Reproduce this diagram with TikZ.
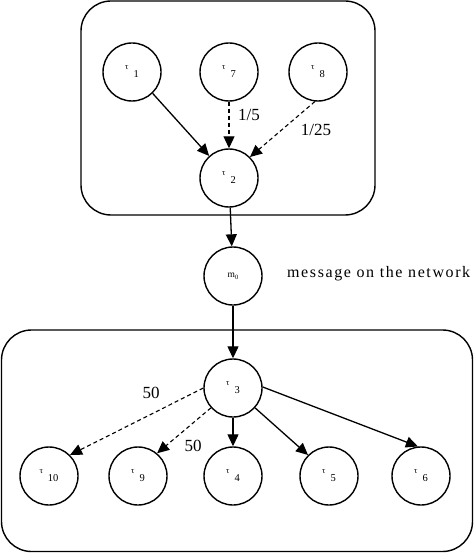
\documentclass[tikz,border=0pt]{standalone}
\usepackage{fontspec}
\setmainfont{Liberation Serif}
\usetikzlibrary{arrows.meta}
\newcommand{\tlab}[1]{{\fontsize{8.5}{8.5}\selectfont τ}\hspace{5pt}\raisebox{-8pt}{\fontsize{10.5}{10.5}\selectfont #1}}
\tikzset{
  tnode/.style={circle,draw,line width=1.4pt,minimum size=58pt,inner sep=0pt},
  grp/.style={draw,line width=1.4pt,rounded corners=30pt},
  solidarr/.style={line width=1.3pt,-{Triangle[length=12pt,width=11pt]}},
  dasharr/.style={line width=1.1pt,dash pattern=on 4pt off 3pt,-{Triangle[length=12pt,width=11pt]}},
  lab/.style={font=\fontsize{17}{17}\selectfont,inner sep=0pt}
}
\begin{document}
\begin{tikzpicture}[x=1pt,y=-1pt]
\useasboundingbox (0,0) rectangle (474,553);
\draw[grp] (81,1) rectangle (375,215);
\draw[grp] (1.5,330) rectangle (472.5,551.5);
\node[tnode] (t1) at (132,72) {\tlab{1}};
\node[tnode] (t7) at (229,72) {\tlab{7}};
\node[tnode] (t8) at (318,72) {\tlab{8}};
\node[tnode] (t2) at (229,178) {\tlab{2}};
\node[tnode] (m0) at (233,276) {{\fontsize{9.5}{9.5}\selectfont m}\raisebox{-2pt}{\fontsize{6.5}{6.5}\selectfont 0}};
\node[tnode] (t3) at (233,388) {\tlab{3}};
\node[tnode] (t10) at (49,476) {\tlab{10}};
\node[tnode] (t9) at (138,476) {\tlab{9}};
\node[tnode] (t4) at (233,476) {\tlab{4}};
\node[tnode] (t5) at (329,476) {\tlab{5}};
\node[tnode] (t6) at (421,476) {\tlab{6}};
\node[anchor=west,inner sep=0pt,font=\fontsize{16}{16}\selectfont\addfontfeature{LetterSpace=10}] (msg) at (287,274) {message on the network};
\draw[solidarr] (t1.314) -- (t2.132);
\draw[dasharr] (t7) -- (t2);
\draw[dasharr] (t8.264) -- (t2.45);
\draw[solidarr] (t2) -- (m0);
\draw[solidarr] (m0) -- (t3);
\draw[dasharr] (t3.180) -- (t10.45);
\draw[dasharr] (t3.222) -- (t9.50);
\draw[solidarr] (t3) -- (t4);
\draw[solidarr] (t3.318) -- (t5.135);
\draw[solidarr] (t3.2) -- (t6.96);
\node[lab] (l1) at (249,115) {1/5};
\node[lab] (l2) at (316,130) {1/25};
\node[lab] (l3) at (151,393) {50};
\node[lab] (l4) at (193,446) {50};
\end{tikzpicture}
\end{document}
